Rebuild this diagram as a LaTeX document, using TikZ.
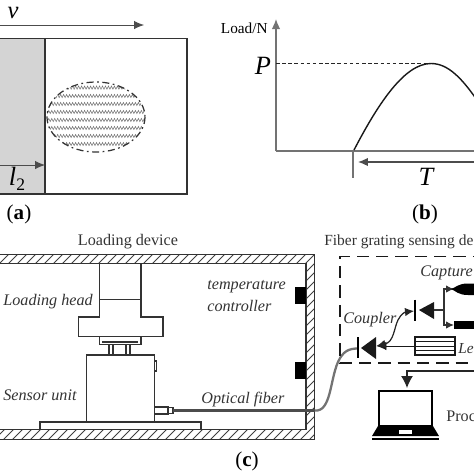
\documentclass[tikz,border=0pt]{standalone}
\usepackage{fontspec}
\setmainfont{Liberation Serif}
\usepackage{tikz}
\usetikzlibrary{arrows.meta,decorations.pathmorphing,shapes.geometric}

\begin{document}
\begin{tikzpicture}[x=0.02cm, y=-0.02cm,
        axisline/.style={draw=black!55, line width=0.7pt},
        partline/.style={draw=black!80, line width=0.6pt},
        tiparrow/.style={-{Latex[length=2mm,width=1.7mm]}, black!70, line width=0.5pt},
        fiberline/.style={draw=black!55, line width=1.3pt},
        caption/.style={font=\fontsize{12}{12}\selectfont, inner sep=0pt},
        biglabel/.style={font=\fontsize{15}{15}\selectfont\itshape, inner sep=0pt},
        txtlabel/.style={font=\fontsize{9.2}{9.2}\selectfont\color{black!80}, inner sep=0pt},
        itlabel/.style={txtlabel, font=\fontsize{9.2}{9.2}\selectfont\itshape\color{black!80}, anchor=west},
    ]
    \clip (0, 0) rectangle (474, 474);
    \useasboundingbox (0, 0) rectangle (474, 474);

    % part a
    \fill[black!17] (-5, 38.5) rectangle (45, 194);
    \draw[partline, line width=0.8pt] (-5, 38.5) rectangle (187, 194);
    \draw[partline, line width=0.8pt] (45, 38.5) -- (45, 194);
    \coordinate (vstart) at (-5, 25);
    \coordinate (vend) at (144, 25);
    \draw[tiparrow] (vstart) -- (vend);
    \coordinate (lstart) at (-5, 165);
    \coordinate (lend) at (45, 165);
    \draw[tiparrow] (lstart) -- (lend);
    \node[biglabel, font=\fontsize{14}{14}\selectfont\itshape] (vel) at (13, 13) {v};
    \node[biglabel] (ltwo) at (17, 179) {l\raisebox{-0.4ex}{\fontsize{10}{10}\selectfont\upshape 2}};
    \node[caption] (capa) at (19, 214) {(\textbf{a})};

    \begin{scope}
        \clip (96, 117) ellipse [x radius=49, y radius=35];
        \foreach \rowy in {87.6, 96, 104, 112, 120, 128, 136, 144} {
            \draw[black!55, line width=0.3pt, decorate, decoration={zigzag, segment length=1.7pt, amplitude=0.9pt}] (45, \rowy) -- (147, \rowy);
        }
    \end{scope}
    \draw[black!80, line width=0.7pt, dash pattern=on 4pt off 2pt on 1pt off 2pt] (96, 117) ellipse [x radius=49, y radius=35];

    % part b
    \coordinate (orig) at (276, 151);
    \coordinate (ytop) at (276, 19);
    \coordinate (xend) at (479, 151);
    \draw[axisline, -{Latex[length=2mm,width=1.7mm]}] (orig) -- (ytop);
    \draw[axisline] (orig) -- (xend);
    \draw[axisline] (353, 151) -- (353, 178);
    \draw[black!85, dash pattern=on 2pt off 1.5pt, line width=0.45pt] (276, 63.5) -- (431, 63.5);
    \draw[black!90, line width=0.8pt] (354, 150) .. controls (379, 102) and (405, 63.5) .. (431, 63.5) .. controls (448, 63.5) and (462, 78) .. (479, 103);
    \coordinate (tstart) at (479, 162);
    \coordinate (tend) at (358, 162);
    \draw[axisline, -{Latex[length=2mm,width=1.7mm]}, black!70] (tstart) -- (tend);
    \node[txtlabel, anchor=east, font=\fontsize{8.7}{8.7}\selectfont] (loadn) at (268, 28) {Load/N};
    \node[biglabel] (pk) at (263, 66) {P};
    \node[biglabel] (per) at (426, 177) {T};
    \node[caption] (capb) at (425, 214) {(\textbf{b})};

    % part c, walls
    \begin{scope}[even odd rule]
        \clip (-5, 254.3) rectangle (314.7, 439.3) (-5, 263.7) rectangle (306, 429.7);
        \foreach \hx in {-200, -191, ..., 320} {
            \draw[black!75, line width=0.45pt] (\hx, 445) -- (\hx + 195, 250);
        }
    \end{scope}
    \draw[partline, line width=0.7pt] (-5, 254.3) rectangle (314.7, 439.3);
    \draw[partline, line width=0.7pt] (-5, 263.7) rectangle (306, 429.7);
    \fill[black] (295, 287) rectangle (306, 304);
    \fill[black] (295, 362) rectangle (306, 379);

    % loading head and sensor
    \draw[partline] (99.5, 263.7) -- (99.5, 317) -- (78.5, 317) -- (78.5, 336.3) -- (163, 336.3) -- (163, 317) -- (141, 317) -- (141, 263.7);
    \draw[partline] (99.5, 299.7) -- (141, 299.7);
    \draw[partline, line width=0.9pt] (99.5, 336.3) rectangle (141, 344.5);
    \draw[partline] (102, 342) -- (138, 342);
    \draw[partline] (109, 344.5) rectangle (130, 355);
    \draw[partline] (113, 344.5) -- (113, 355);
    \draw[partline] (126, 344.5) -- (126, 355);
    \draw[partline] (86.5, 355) rectangle (154.5, 422);
    \draw[partline] (154.5, 361) rectangle (156.5, 371);
    \draw[partline] (40, 422) rectangle (201, 429.7);
    \draw[partline] (154.5, 407) rectangle (168, 414);
    \draw[partline, line width=0.9pt] (168, 407.5) rectangle (173, 413.5);

    % fiber
    \coordinate (fibs) at (173, 410.5);
    \coordinate (fibw) at (315, 410.5);
    \coordinate (cpla) at (358, 348.5);
    \draw[fiberline, draw=black!70] (fibs) -- (fibw);
    \draw[fiberline] (fibw) .. controls (331, 412) and (330, 380) .. (338, 362) .. controls (343, 351) and (349, 348.5) .. (cpla);

    % sensing device
    \draw[black!90, line width=1.1pt, dash pattern=on 7pt off 4pt] (485, 256.5) -- (340, 256.5) -- (340, 363) -- (485, 363);
    \draw[black, line width=1pt] (357.7, 337) -- (357.7, 358);
    \fill[black!90] (361, 348) -- (376, 337) -- (376, 359) -- cycle;
    \draw[black, line width=1pt] (415.3, 299.7) -- (415.3, 321);
    \fill[black!90] (419, 310) -- (434, 302) -- (434, 319) -- cycle;

    \node[draw=black!90, line width=0.6pt, minimum width=0.8cm, minimum height=0.36cm, inner sep=0pt] (lasr) at (435, 346) {};
    \draw[black!90, line width=0.5pt] (415, 341.5) -- (455, 341.5) (415, 346) -- (455, 346) (415, 350.5) -- (455, 350.5);
    \coordinate (tribase) at (376.5, 346);
    \draw[tiparrow, black!90] (lasr.west) -- (tribase);

    \coordinate (upbar) at (414, 311);
    \draw[black!85, line width=0.7pt, {Latex[length=1.8mm,width=1.7mm]}-{Latex[length=1.8mm,width=1.7mm]}] (tribase) .. controls (394, 342) and (394, 328) .. (398, 320) .. controls (401, 314) and (405, 312) .. (upbar);

    \coordinate (upbase) at (434, 310);
    \coordinate (fork) at (444, 310);
    \coordinate (captop) at (454, 289);
    \coordinate (capbot) at (454, 325);
    \draw[black!80, line width=0.7pt] (upbase) -- (fork);
    \draw[black!80, line width=0.7pt, -{Latex[length=1.6mm,width=1.5mm]}] (fork) |- (captop);
    \draw[black!80, line width=0.7pt, -{Latex[length=1.6mm,width=1.5mm]}] (fork) |- (capbot);
    \fill[black] (451, 289) .. controls (456, 287.5) and (458, 283.5) .. (468, 283.5) -- (480, 283.5) -- (480, 295) -- (468, 295) .. controls (458, 295) and (456, 291) .. (451, 289) -- cycle;
    \fill[black] (454, 321) rectangle (480, 329);

    % laptop
    \coordinate (lapin) at (479, 371);
    \coordinate (laptop) at (407, 388);
    \draw[black!85, line width=0.7pt, -{Latex[length=2.4mm,width=2.4mm]}] (lapin) -| (laptop);
    \draw[black, line width=1.5pt] (379, 391) rectangle (432, 426);
    \fill[black] (378, 426) -- (433, 426) -- (439, 436) -- (372, 436) -- cycle;
    \fill[white] (399, 430) rectangle (412, 433.5);
    \fill[black] (372, 437.5) rectangle (439, 440);

    % text of part c
    \node[txtlabel] (devload) at (128, 242) {Loading device};
    \node[txtlabel, anchor=west, font=\fontsize{8.8}{8.8}\selectfont\color{black!80}] (devfib) at (324, 242) {Fiber grating sensing de};
    \node[itlabel] (hdl) at (3, 302) {Loading head};
    \node[itlabel] (snsl) at (3, 395) {Sensor unit};
    \node[itlabel] (tmpl) at (207, 287) {temperature};
    \node[itlabel] (ctrl) at (207, 306) {controller};
    \node[itlabel] (optl) at (201, 400) {Optical fiber};
    \node[itlabel] (cplrl) at (343, 320) {Coupler};
    \node[itlabel] (captl) at (420, 273) {Capture};
    \node[itlabel, font=\fontsize{8.7}{8.7}\selectfont\itshape\color{black!80}] (lasl) at (458, 349) {Le};
    \node[txtlabel, anchor=west] (procl) at (446, 416) {Proc};
    \node[caption] (capc) at (247, 461) {(\textbf{c})};
\end{tikzpicture}
\end{document}
